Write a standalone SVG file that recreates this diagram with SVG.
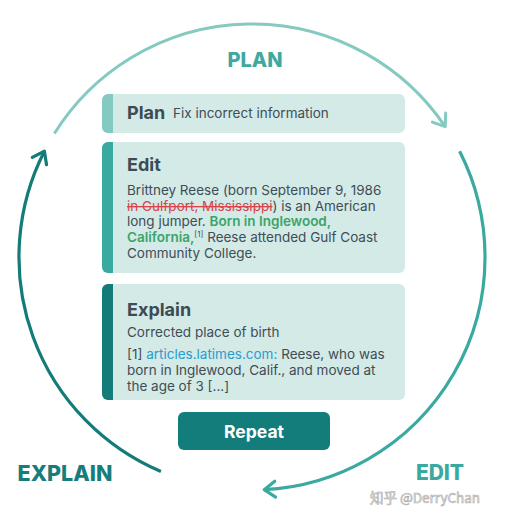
<svg xmlns="http://www.w3.org/2000/svg" width="508" height="515" viewBox="0 0 508 515">
<style>
.card{fill:#d3eae6}
.h{font-family:Inter,"Open Sans",sans-serif;font-weight:700;font-size:18px;fill:#3d4b55}
.b{font-family:Inter,"Open Sans",sans-serif;font-size:13.5px;fill:#414d56}
.lbl{font-family:Inter,"Open Sans",sans-serif;font-weight:800;text-anchor:middle}
.del{fill:#d9434b;text-decoration:line-through}
.add{fill:#3aa46a;font-weight:600}
.link{fill:#2a9cd0}
</style>
<defs>
<marker id="mTop" markerUnits="userSpaceOnUse" markerWidth="30" markerHeight="30" viewBox="-15 -15 30 30" refX="0" refY="0" orient="auto" overflow="visible">
<path d="M-11,-8 L0,0 L-11,8" fill="none" stroke="#84cac1" stroke-width="3" stroke-linecap="round" stroke-linejoin="round"/>
</marker>
<marker id="mRight" markerUnits="userSpaceOnUse" markerWidth="30" markerHeight="30" viewBox="-15 -15 30 30" refX="0" refY="0" orient="auto" overflow="visible">
<path d="M-11,-8 L0,0 L-11,8" fill="none" stroke="#3aa9a0" stroke-width="3.2" stroke-linecap="round" stroke-linejoin="round"/>
</marker>
<marker id="mLeft" markerUnits="userSpaceOnUse" markerWidth="30" markerHeight="30" viewBox="-15 -15 30 30" refX="0" refY="0" orient="auto" overflow="visible">
<path d="M-11,-8 L0,0 L-11,8" fill="none" stroke="#137b79" stroke-width="3.2" stroke-linecap="round" stroke-linejoin="round"/>
</marker>
<clipPath id="cPlan"><rect x="102" y="94" width="303" height="39" rx="6"/></clipPath>
<clipPath id="cEdit"><rect x="102" y="142" width="303" height="131" rx="6"/></clipPath>
<clipPath id="cExplain"><rect x="102" y="284" width="303" height="116" rx="6"/></clipPath>
</defs>
<rect width="508" height="515" fill="#ffffff"/>

<g id="connectors" fill="none">
<path d="M54.4,133.5 A233,233 0 0 1 445.2,126.7" stroke="#84cac1" stroke-width="3" marker-end="url(#mTop)"/>
<path d="M459.6,151.2 A233,233 0 0 1 264.2,489.7" stroke="#3aa9a0" stroke-width="3.2" marker-end="url(#mRight)"/>
<path d="M160.9,471.5 A233,233 0 0 1 44.4,151.2" stroke="#137b79" stroke-width="3.2" marker-end="url(#mLeft)"/>
</g>

<g id="label-plan"><text class="lbl" x="255" y="67" font-size="20" fill="#40a89f">PLAN</text></g>
<g id="label-edit"><text class="lbl" x="440" y="480" font-size="21" fill="#3aa9a0">EDIT</text></g>
<g id="label-explain"><text class="lbl" x="65" y="481" font-size="21.5" fill="#167d7b">EXPLAIN</text></g>

<g id="plan">
<g clip-path="url(#cPlan)">
<rect class="card" x="102" y="94" width="303" height="39"/>
<rect x="102" y="94" width="11" height="39" fill="#84cac1"/>
</g>
<text class="h" x="127" y="119">Plan</text>
<text class="b" x="173" y="118">Fix incorrect information</text>
</g>

<g id="edit">
<g clip-path="url(#cEdit)">
<rect class="card" x="102" y="142" width="303" height="131"/>
<rect x="102" y="142" width="11" height="131" fill="#3aa9a0"/>
</g>
<text class="h" x="127" y="171">Edit</text>
<text class="b" x="127" y="195">Brittney Reese (born September 9, 1986</text>
<text class="b" x="127" y="211"><tspan class="del">in Gulfport, Mississippi</tspan>) is an American</text>
<text class="b" x="127" y="226">long jumper. <tspan class="add">Born in Inglewood,</tspan></text>
<text class="b" x="127" y="242"><tspan class="add">California,</tspan><tspan font-size="8" dy="-5">[1]</tspan><tspan dy="5"> Reese attended Gulf Coast</tspan></text>
<text class="b" x="127" y="258">Community College.</text>
</g>

<g id="explain">
<g clip-path="url(#cExplain)">
<rect class="card" x="102" y="284" width="303" height="116"/>
<rect x="102" y="284" width="11" height="116" fill="#137b79"/>
</g>
<text class="h" x="127" y="316">Explain</text>
<text class="b" x="127" y="337">Corrected place of birth</text>
<text class="b" x="127" y="359">[1] <tspan class="link">articles.latimes.com:</tspan> Reese, who was</text>
<text class="b" x="127" y="375">born in Inglewood, Calif., and moved at</text>
<text class="b" x="127" y="391">the age of 3 [...]</text>
</g>

<g id="repeat">
<rect x="178" y="412" width="152" height="38" rx="6" fill="#137d7b"/>
<text x="254" y="438" text-anchor="middle" font-family="Inter,'Open Sans',sans-serif" font-weight="700" font-size="17.5" fill="#ffffff">Repeat</text>
</g>

<g id="watermark">
<text x="370" y="503" font-family="'Noto Sans CJK SC','Noto Sans',sans-serif" font-size="13.5" fill="#f2f2f2" stroke="#a9a9a9" stroke-width="0.6">知乎 @DerryChan</text>
</g>
</svg>
